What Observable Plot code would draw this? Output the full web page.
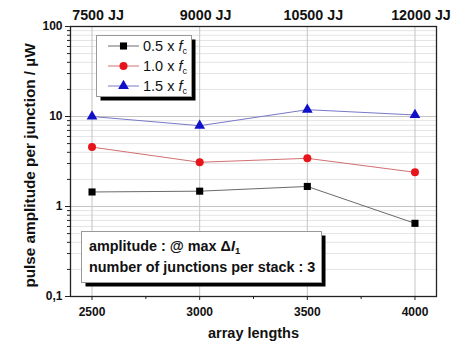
<!DOCTYPE html>
<html><head><meta charset="utf-8">
<script src="https://cdn.jsdelivr.net/npm/d3@7"></script>
<script src="https://cdn.jsdelivr.net/npm/@observablehq/plot@0.6"></script>
<style>
body{margin:0;background:#fff;}
</style></head><body><div id="chart"></div>
<script>
const lengths = [2500, 3000, 3500, 4000];
const junctionLabels = ["7500 JJ", "9000 JJ", "10500 JJ", "12000 JJ"];
const seriesNames = ["0.5", "1.0", "1.5"];
const amp05 = [1.45, 1.48, 1.67, 0.65];
const amp10 = [4.57, 3.1, 3.43, 2.4];
const amp15 = [10.0, 7.9, 11.9, 10.4];
const yTicks = [0.1, 1, 10, 100];
const yTickLabels = ["0,1", "1", "10", "100"];
const minorX = [2750, 3250, 3750];
const lineColors = ["#6a6a6a", "#d27070", "#7878c8"];
const markerColors = ["#000000", "#e8141c", "#1010c8"];
const symbols = ["square", "circle", "triangle"];
const xLabel = "array lengths";
const yLabel = "pulse amplitude per junction / µW";

const ff = '"Liberation Sans", Arial, sans-serif';
const values = [amp05, amp10, amp15];
const rows = seriesNames.flatMap((s, i) => lengths.map((x, j) => ({series: s, x, y: values[i][j]})));
const minorY = [];
for (const d of [0.1, 1, 10]) for (let k = 2; k <= 9; k++) minorY.push(+(d * k).toPrecision(2));

const chart = Plot.plot({
  width: 474, height: 356,
  marginLeft: 70, marginRight: 38, marginTop: 26, marginBottom: 60,
  style: {fontFamily: ff, background: "#fff"},
  x: {domain: [2400, 4100]},
  y: {type: "log", domain: [0.1, 100]},
  color: {domain: seriesNames, range: markerColors},
  symbol: {domain: seriesNames, range: symbols},
  marks: [
    Plot.gridY(minorY, {stroke: "#e4e4e4", strokeOpacity: 1, strokeWidth: 1}),
    Plot.gridY(yTicks, {stroke: "#c4c4c4", strokeOpacity: 1, strokeWidth: 1}),
    Plot.gridX(lengths, {stroke: "#c4c4c4", strokeOpacity: 1, strokeWidth: 1}),
    ...seriesNames.map((s, i) => Plot.line(rows.filter(d => d.series === s), {x: "x", y: "y", stroke: lineColors[i], strokeWidth: 1})),
    Plot.dot(rows, {x: "x", y: "y", symbol: "series", fill: "series", stroke: "none", r: 4}),
    Plot.frame({stroke: "#222", strokeWidth: 1.3}),
    Plot.axisX(lengths, {anchor: "bottom", tickSize: 4, tickPadding: 7, tickFormat: d => String(d), fontSize: 12, fontWeight: "bold", label: null, stroke: "#222", fill: "#111"}),
    Plot.axisX(minorX, {anchor: "bottom", tickSize: 3, tickFormat: () => "", label: null, stroke: "#222"}),
    Plot.axisX(lengths, {anchor: "top", tickSize: 0, tickPadding: 7, dx: 6, tickFormat: d => junctionLabels[lengths.indexOf(d)], fontSize: 14.3, fontWeight: "bold", label: null, fill: "#111"}),
    Plot.axisY(yTicks, {anchor: "left", tickSize: 5, tickPadding: 3, tickFormat: d => yTickLabels[yTicks.indexOf(d)], fontSize: 12, fontWeight: "bold", label: null, stroke: "#222", fill: "#111"}),
    Plot.axisY(minorY, {anchor: "left", tickSize: 3, tickFormat: () => "", label: null, stroke: "#222"}),
    Plot.text([yLabel], {frameAnchor: "left", dx: -40, dy: 4, rotate: -90, textAnchor: "middle", lineAnchor: "middle", fontSize: 15.3, fontWeight: "bold", fill: "#111"}),
    Plot.text([xLabel], {frameAnchor: "bottom", dy: 37, textAnchor: "middle", lineAnchor: "middle", fontSize: 14.5, fontWeight: "bold", fill: "#111"})
  ]
});
document.getElementById("chart").appendChild(chart);

// Legend and annotation boxes
const svg = d3.select(chart);
function box(x, y, w, h) {
  const g = svg.append("g").attr("text-anchor", "start").attr("font-family", ff);
  g.append("rect").attr("x", x + 4).attr("y", y + 4).attr("width", w).attr("height", h).attr("fill", "#000");
  g.append("rect").attr("x", x).attr("y", y).attr("width", w).attr("height", h).attr("fill", "#fff").attr("stroke", "#999").attr("stroke-width", 1);
  return g;
}
const lg = box(96.5, 35.5, 95, 61);
const sym = seriesNames.map((s, i) => d3.symbol(i === 0 ? d3.symbolSquare : i === 1 ? d3.symbolCircle : d3.symbolTriangle, 16 * Math.PI)());
seriesNames.forEach((s, i) => {
  const cy = 46 + i * 20;
  lg.append("line").attr("x1", 108).attr("x2", 139).attr("y1", cy).attr("y2", cy).attr("stroke", lineColors[i]).attr("stroke-width", 1);
  lg.append("path").attr("d", sym[i]).attr("transform", `translate(123.5,${cy})`).attr("fill", markerColors[i]);
  const t = lg.append("text").attr("x", 143).attr("y", cy + 5).attr("font-size", 14.5).attr("fill", "#111");
  t.append("tspan").text(s + " x ");
  t.append("tspan").attr("font-style", "italic").text("f");
  t.append("tspan").attr("font-size", 9).attr("dy", 3).text("c");
});
const ab = box(81.5, 231.5, 240, 51);
const t1 = ab.append("text").attr("x", 89).attr("y", 251).attr("font-size", 14.4).attr("font-weight", "bold").attr("fill", "#111");
t1.append("tspan").text("amplitude : @ max Δ");
t1.append("tspan").attr("font-style", "italic").text("I");
t1.append("tspan").attr("font-size", 9.5).attr("dy", 3).text("1");
ab.append("text").attr("x", 89).attr("y", 272).attr("font-size", 14.4).attr("font-weight", "bold").attr("fill", "#111").text("number of junctions per stack : 3");
</script></body></html>
